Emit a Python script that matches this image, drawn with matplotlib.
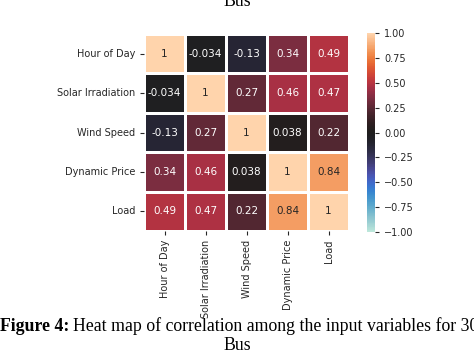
import matplotlib
matplotlib.use("Agg")
import matplotlib.pyplot as plt
import numpy as np
import seaborn as sns

labels = ["Hour of Day", "Solar Irradiation", "Wind Speed", "Dynamic Price", "Load"]
row_hour = [1, -0.034, -0.13, 0.34, 0.49]
row_solar = [-0.034, 1, 0.27, 0.46, 0.47]
row_wind = [-0.13, 0.27, 1, 0.038, 0.22]
row_price = [0.34, 0.46, 0.038, 1, 0.84]
row_load = [0.49, 0.47, 0.22, 0.84, 1]
cbar_ticks = [-1.0, -0.75, -0.5, -0.25, 0.0, 0.25, 0.5, 0.75, 1.0]

corr = np.array([row_hour, row_solar, row_wind, row_price, row_load])

fig = plt.figure(figsize=(4.74, 3.51), dpi=100)
ax = fig.add_axes([0.3038, 0.3419, 0.4325, 0.5612])
cax = fig.add_axes([0.7743, 0.339, 0.0168, 0.567])

sns.heatmap(corr, ax=ax, cbar_ax=cax, cmap="icefire", vmin=-1, vmax=1,
            annot=True, fmt=".2g", linewidths=1, linecolor="white",
            annot_kws={"fontsize": 7.5},
            xticklabels=labels, yticklabels=labels,
            cbar_kws={"ticks": cbar_ticks})

ax.tick_params(axis="both", labelsize=7, colors="#262626", length=3, width=0.8)
ax.set_xticklabels(labels, rotation=90)
ax.set_yticklabels(labels, rotation=0)
cax.tick_params(labelsize=7, colors="#262626", length=3, width=0.8)
cax.set_yticklabels(["\u22121.00", "\u22120.75", "\u22120.50", "\u22120.25", "0.00", "0.25", "0.50", "0.75", "1.00"])
for s in cax.spines.values():
    s.set_visible(False)

serif = ["Liberation Serif", "DejaVu Serif"]
fs = 12.8
fig.text(0.5, 0.982, "Bus", ha="center", va="baseline", family=serif, fontsize=fs)
t1 = fig.text(0.0, 1 - 331 / 351, "Figure 4:", ha="left", va="baseline",
              family=serif, fontsize=fs, weight="bold")
fig.canvas.draw()
bb = t1.get_window_extent()
x2 = (bb.x1 + 4) / fig.bbox.width
fig.text(x2, 1 - 331 / 351, "Heat map of correlation among the input variables for 30",
         ha="left", va="baseline", family=serif, fontsize=fs)
fig.text(0.5, 1 - 350 / 351, "Bus", ha="center", va="baseline", family=serif, fontsize=fs)

fig.savefig("out.png", dpi=100)
